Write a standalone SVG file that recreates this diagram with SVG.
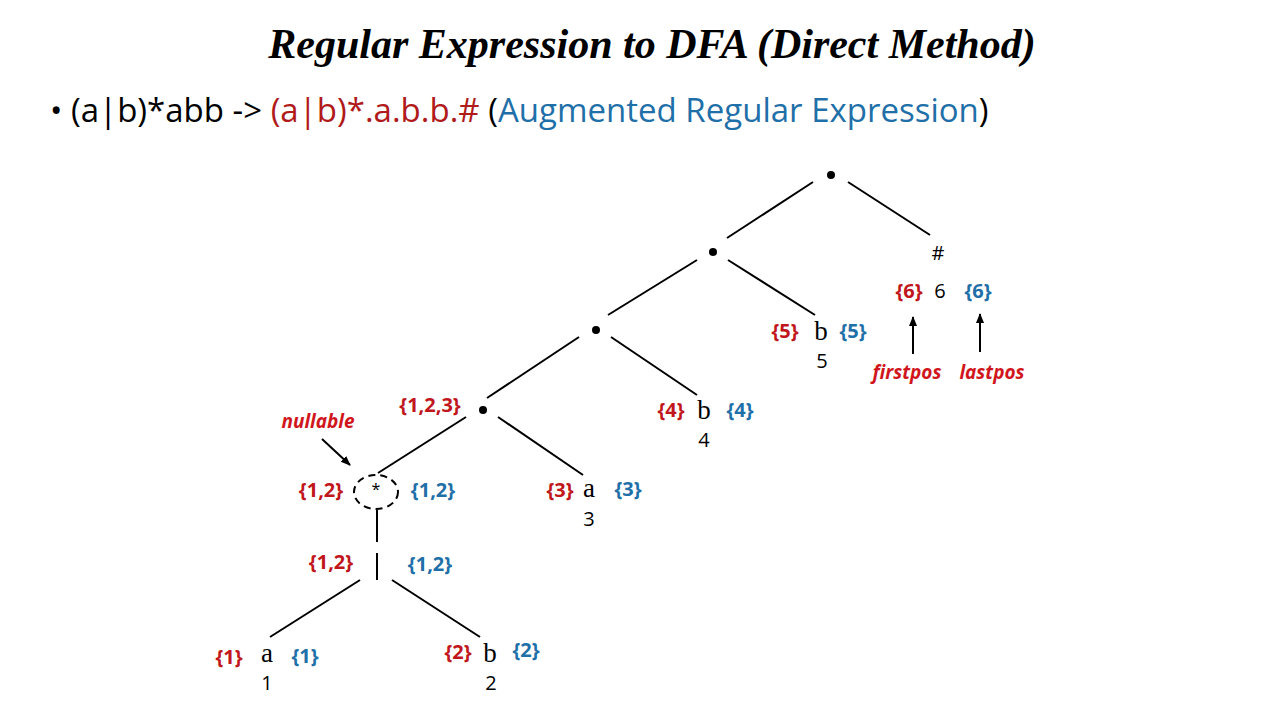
<svg xmlns="http://www.w3.org/2000/svg" width="1280" height="720" viewBox="0 0 1280 720">
<defs>
<marker id="ah" viewBox="0 0 10 10" refX="9" refY="5" markerWidth="5" markerHeight="5" orient="auto-start-reverse"><path d="M0,1 L10,5 L0,9 z" fill="#000"/></marker>
</defs>
<style>
text{font-family:"Open Sans","Liberation Sans",sans-serif;text-anchor:middle}
.r{fill:#C0161C;font-weight:bold;font-size:20px}
.b{fill:#1F6FA8;font-weight:bold;font-size:20px}
.s{font-family:"Liberation Serif",serif;font-size:27px;fill:#000}
.n{font-size:20px;fill:#000}
.ri{fill:#D0161C;font-weight:bold;font-style:italic;font-size:19px}
.e{stroke:#000;stroke-width:2;fill:none}
</style>
<rect width="1280" height="720" fill="#fff"/>
<text x="652" y="58" style="font-family:'Liberation Serif',serif;font-style:italic;font-weight:bold;font-size:42px">Regular Expression to DFA (Direct Method)</text>
<text x="50" y="122" style="text-anchor:start;font-size:33px" fill="#000">• (a|b)*abb -&gt; <tspan fill="#B01A1A">(a|b)*.a.b.b.#</tspan> (<tspan fill="#1F6FA8">Augmented Regular Expression</tspan>)</text>
<g id="connectors">
<line class="e" x1="813" y1="182" x2="727" y2="238"/>
<line class="e" x1="848" y1="182" x2="930" y2="235"/>
<line class="e" x1="697" y1="260" x2="608" y2="315"/>
<line class="e" x1="728" y1="260" x2="815" y2="315"/>
<line class="e" x1="579" y1="337" x2="487" y2="398"/>
<line class="e" x1="611" y1="337" x2="697" y2="395"/>
<line class="e" x1="466" y1="417" x2="378" y2="473"/>
<line class="e" x1="498" y1="417" x2="583" y2="475"/>
<line class="e" x1="377" y1="510" x2="377" y2="542"/>
<line class="e" x1="360" y1="580" x2="270" y2="637"/>
<line class="e" x1="392" y1="580" x2="480" y2="637"/>
<line class="e" x1="913" y1="354" x2="913" y2="317" marker-end="url(#ah)"/>
<line class="e" x1="980" y1="352" x2="980" y2="314" marker-end="url(#ah)"/>
<line class="e" x1="322" y1="439" x2="350" y2="465" marker-end="url(#ah)"/>
</g>
<g id="root"><circle cx="831" cy="175" r="4"/></g>
<g id="hash"><text x="938" y="260" class="n">#</text><text x="909" y="298" class="r">{6}</text><text x="940" y="298" class="n">6</text><text x="978" y="298" class="b">{6}</text></g>
<g id="labels"><text x="907" y="379" class="ri">firstpos</text><text x="992" y="379" class="ri">lastpos</text><text x="318" y="428" class="ri">nullable</text></g>
<g id="dot2"><circle cx="713" cy="252" r="4"/></g>
<g id="b5"><text x="785" y="338" class="r">{5}</text><text x="821" y="340" class="s">b</text><text x="853" y="338" class="b">{5}</text><text x="822" y="368" class="n">5</text></g>
<g id="dot3"><circle cx="596" cy="330" r="4"/></g>
<g id="b4"><text x="671" y="417" class="r">{4}</text><text x="704" y="419" class="s">b</text><text x="740" y="417" class="b">{4}</text><text x="704" y="447" class="n">4</text></g>
<g id="dot4"><circle cx="483" cy="410" r="4"/><text x="430" y="412" class="r">{1,2,3}</text></g>
<g id="a3"><text x="560" y="497" class="r">{3}</text><text x="589" y="497" class="s">a</text><text x="628" y="496" class="b">{3}</text><text x="589" y="526" class="n">3</text></g>
<g id="star"><ellipse cx="376" cy="492" rx="22" ry="17" fill="none" stroke="#000" stroke-width="2" stroke-dasharray="7,5"/><text x="376" y="495" style="font-size:16px">*</text><text x="321" y="497" class="r">{1,2}</text><text x="433" y="497" class="b">{1,2}</text></g>
<g id="alt"><line x1="377" y1="553" x2="377" y2="580" stroke="#000" stroke-width="2"/><text x="331" y="569" class="r">{1,2}</text><text x="430" y="571" class="b">{1,2}</text></g>
<g id="a1"><text x="229" y="664" class="r">{1}</text><text x="267" y="662" class="s">a</text><text x="305" y="663" class="b">{1}</text><text x="267" y="690" class="n">1</text></g>
<g id="b2"><text x="458" y="659" class="r">{2}</text><text x="490" y="662" class="s">b</text><text x="526" y="657" class="b">{2}</text><text x="491" y="690" class="n">2</text></g>
</svg>
